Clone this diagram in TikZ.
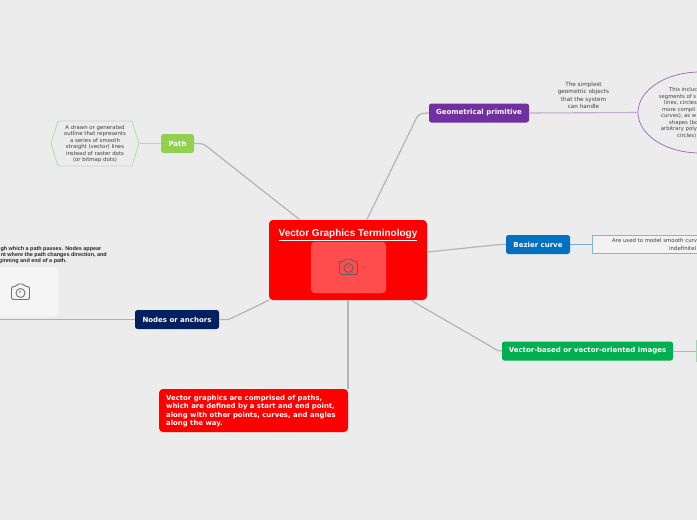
\documentclass[tikz,border=0pt]{standalone}
\usepackage{fontspec}
\setmainfont{DejaVu Sans}
\newfontfamily\arialf{Liberation Sans}
\usetikzlibrary{shapes.geometric}
\definecolor{bg}{HTML}{ECECEC}
\definecolor{trunk}{HTML}{B4B4B4}
\definecolor{inkt}{HTML}{404040}
\definecolor{cred}{HTML}{FF0000}
\definecolor{cgreen}{HTML}{92D050}
\definecolor{cpurple}{HTML}{7030A0}
\definecolor{cblue}{HTML}{0070C0}
\definecolor{cgreenb}{HTML}{00B050}
\definecolor{cnavy}{HTML}{002060}
\tikzset{
  topic/.style={draw=none,rounded corners=2.5pt,text=white,font=\bfseries\fontsize{7}{8}\selectfont,inner sep=0pt,anchor=center,minimum height=19pt},
  branch/.style={draw=trunk,line width=1.2pt},
  small/.style={text=inkt,font=\fontsize{5.4}{6.5}\selectfont,align=center,inner sep=0pt},
  tiny/.style={text=inkt,font=\fontsize{5.3}{6.5}\selectfont,inner sep=0pt,anchor=west},
  leftline/.style={text=black!85,font=\arialf\bfseries\fontsize{5.45}{6}\selectfont,inner sep=0pt,anchor=east},
  cam/.pic={
    \draw[pic actions,line width=0.9pt,rounded corners=1.5pt,fill=none]
      (-9,-5.5) -- (-4.5,-5.5) -- (-3,-8) -- (3,-8) -- (4.5,-5.5) -- (9,-5.5) -- (9,7.5) -- (-9,7.5) -- cycle;
    \draw[pic actions,line width=0.9pt,fill=none] (0,1) circle (4.5);
    \draw[pic actions,line width=0.6pt,fill=none] (-1.5,1) arc (180:270:2);
  }
}
\begin{document}
\begin{tikzpicture}[x=1pt,y=-1pt]
\useasboundingbox (0,0) rectangle (697,520);
\clip (0,0) rectangle (697,520);
\fill[bg] (0,0) rectangle (697,520);

% nodes
\node[fill=cred,rounded corners=4pt,minimum width=158pt,minimum height=80pt,inner sep=0pt] (central) at (348,260) {};
\node[fill=white,fill opacity=.3,draw=white,draw opacity=.2,rounded corners=4pt,minimum width=75pt,minimum height=51pt,inner sep=0pt] (photo) at (348.5,267.5) {};
\node[text=white,font=\arialf\bfseries\fontsize{10}{12}\selectfont,inner sep=0pt] (title) at (348,235) {\underline{Vector Graphics Terminology}};

\node[topic,fill=cgreen,minimum width=33pt] (pathn) at (177.5,143.5) {Path};
\node[topic,fill=cpurple,minimum width=100pt] (geo) at (479,113) {Geometrical primitive};
\node[topic,fill=cblue,minimum width=64pt] (bez) at (538,244.5) {Bezier curve};
\node[topic,fill=cgreenb,minimum width=171pt] (vec) at (587.5,351) {Vector-based or vector-oriented images};
\node[topic,fill=cnavy,minimum width=84pt] (nod) at (177,319.5) {Nodes or anchors};
\node[fill=cred,rounded corners=4pt,minimum width=189pt,minimum height=43pt,inner sep=0pt] (note) at (253.5,410.5) {};
\node[text=white,font=\bfseries\fontsize{6.9}{8.3}\selectfont,align=left,inner sep=0pt,anchor=north west] (notetxt) at (166,395)
  {Vector graphics are comprised of paths,\\which are defined by a start and end point,\\along with other points, curves, and angles\\along the way.};

\coordinate (hw) at (51,143.5);
\coordinate (he) at (139,143.5);
\draw[draw=cgreen!55!bg,line width=.8pt,fill=bg] (hw) -- (58,121) -- (132,121) -- (he) -- (132,166) -- (58,166) -- cycle;
\node[small] (hextxt) at (95,144) {A drawn or generated\\outline that represents\\a series of smooth\\straight (vector) lines\\instead of raster dots\\(or bitmap dots)};

\node[small,font=\fontsize{5.7}{7.5}\selectfont] (simple) at (583.5,95.5) {The simplest\\geometric objects\\that the system\\can handle};
\node[draw=cpurple!70!bg,line width=.7pt,ellipse,minimum width=124pt,minimum height=81pt,inner sep=0pt] (oval) at (700,112.5) {};

\draw[draw=cblue!45!bg,line width=.8pt,fill=white!30!bg] (700,235) -- (592.5,235) -- (592.5,253) -- (700,253);
\coordinate (bbox) at (592.5,244.5);
\node[small,anchor=west] (bt1) at (612,240.7) {Are used to model smooth curv};
\node[small,anchor=west] (bt2) at (669,248) {indefinitel};

\fill[cgreenb!35!bg] (696,340) rectangle (697,362);
\coordinate (gbox) at (696,351);

\node[fill=white!45!bg,rounded corners=3pt,minimum width=120pt,minimum height=50pt,inner sep=0pt,draw=white!20!bg] (leftphoto) at (-2,292) {};

\node[leftline] (l1) at (101.5,249.5) {gh which a path passes. Nodes appear};
\node[leftline] (l2) at (107,255.5) {nt where the path changes direction, and};
\node[leftline] (l3) at (67,261.5) {ginning and end of a path.};

\pic[draw=gray!75!black] at (348.5,267) {cam};
\pic[draw=gray!90!black] at (20.5,292) {cam};

\node[tiny] (o1) at (669,90) {This incluc};
\node[tiny] (o2) at (658.7,96.6) {segments of s};
\node[tiny] (o3) at (664,103.2) {lines, circles};
\node[tiny] (o4) at (662,109.7) {more compli};
\node[tiny] (o5) at (661,116.3) {curves), as w};
\node[tiny] (o6) at (669,122.9) {shapes (bo};
\node[tiny] (o7) at (660.7,129.4) {arbitrary poly};
\node[tiny] (o8) at (677,136) {circles)};

% connectors
\draw[branch] (pathn.east) .. controls (202,143.5) and (203,143) .. (210,149) -- ([xshift=31pt]central.north west);
\draw[branch] ([xshift=98pt]central.north west) -- (415,121) .. controls (418,114) and (420,113) .. (geo.west);
\draw[branch] (central.east |- 0,252) -- (495,245) .. controls (499,244.5) .. (bez.west);
\draw[branch] ([xshift=142pt]central.south west) -- (490,346) .. controls (495,349) and (497,351) .. (vec.west);
\draw[branch] (central.south) -- (note.north -| central.south);
\draw[branch] (central.south west) -- (232,318) .. controls (228,320) and (226,319.5) .. (nod.east);
\draw[draw=cgreen!55!bg,line width=.9pt] (he) -- (pathn.west);
\draw[draw=cpurple!35!bg,line width=1.1pt] (geo.east) -- (oval.west);
\draw[draw=cblue!50!bg,line width=1pt] (bez.east) -- (bbox);
\draw[draw=trunk,line width=1pt] (vec.east) -- (gbox);
\draw[draw=cnavy!30!bg,line width=1.1pt] (nod.west) -- (0,319.5);
\end{tikzpicture}
\end{document}
